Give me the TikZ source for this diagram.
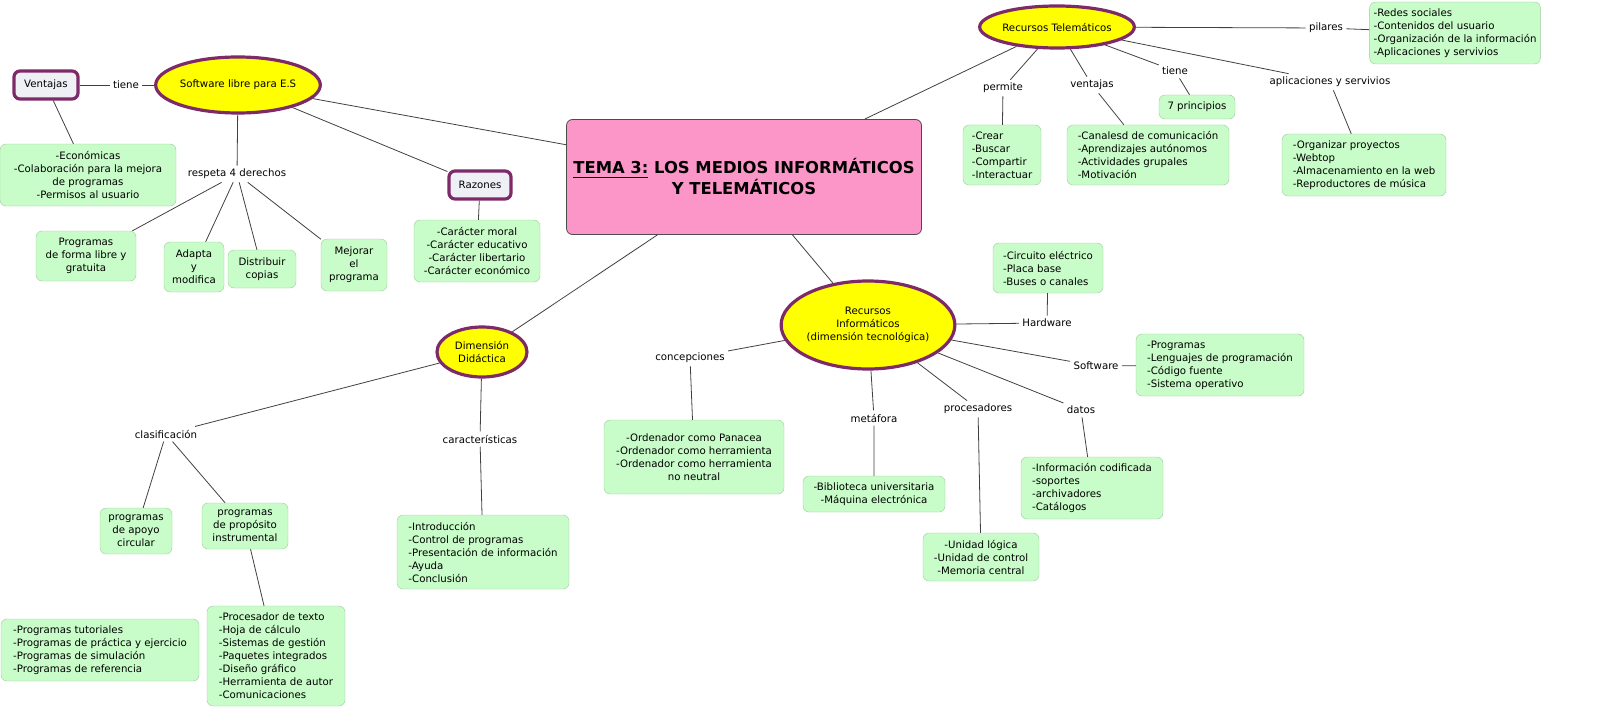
\documentclass[tikz,border=0pt]{standalone}
\usepackage{fontspec}
\setmainfont{DejaVu Sans}
\usetikzlibrary{shapes.geometric}
\definecolor{pk}{HTML}{FC96C8}
\definecolor{yl}{HTML}{FFFF00}
\definecolor{pu}{HTML}{7E2A68}
\definecolor{gr}{HTML}{C8FCC8}
\definecolor{gb}{HTML}{EEF0F6}
\begin{document}
\begin{tikzpicture}[x=0.5pt,y=-0.5pt,
  every node/.style={font=\fontsize{5.1}{6.5}\selectfont,align=center},
  ell/.style={ellipse,draw=pu,line width=1.6pt,fill=yl,minimum width=#1,inner sep=0pt},
  lst/.style={rounded corners=3pt,fill=gr,draw=gr!80!black,line width=0.2pt,minimum width=#1,inner sep=2pt},
  pb/.style={rounded corners=3pt,fill=gb,draw=pu,line width=1.6pt,minimum width=#1,minimum height=14pt},
  lb/.style={inner sep=1.5pt,fill=white},
  ln/.style={draw=black!75,line width=0.4pt}]
\useasboundingbox (0,0) rectangle (1600,722);
% central
\node[rounded corners=3pt,fill=pk,draw=black!70,line width=0.4pt,minimum width=177.5pt,minimum height=57.5pt,font=\fontsize{8.2}{10.5}\selectfont\bfseries] (c) at (744,177) {\underline{TEMA 3:} LOS MEDIOS INFORMÁTICOS\\Y TELEMÁTICOS};
% software libre
\node[ell=72pt,minimum height=28pt] (sl) at (238,85) {Software libre para E.S};
\node[pb=32pt] (ven) at (46,85) {Ventajas};
\node[lb] (tiene1) at (126,85) {tiene};
\node[lst=88pt,minimum height=31pt] (venl) at (88,175) {-Económicas\\-Colaboración para la mejora\\de programas\\-Permisos al usuario};
\node[lb] (resp) at (237,174) {respeta 4 derechos};
\node[lst=50pt,minimum height=25pt] (d1) at (86,256) {Programas\\de forma libre y\\gratuita};
\node[lst=30pt,minimum height=25pt] (d2) at (194,267) {Adapta\\y\\modifica};
\node[lst=34pt,minimum height=19pt] (d3) at (262,269) {Distribuir\\copias};
\node[lst=33pt,minimum height=26pt] (d4) at (354,265) {Mejorar\\el\\programa};
\node[pb=31pt] (raz) at (480,185) {Razones};
\node[lst=63pt,minimum height=31pt] (razl) at (477,251) {-Carácter moral\\-Carácter educativo\\-Carácter libertario\\-Carácter económico};
% telematicos
\node[ell=70pt,minimum height=21pt] (rt) at (1057,27) {Recursos Telemáticos};
\node[lb] (pil) at (1326,28) {pilares};
\node[lst=75pt,minimum height=31pt,align=left] (pill) at (1455,33) {-Redes sociales\\-Contenidos del usuario\\-Organización de la información\\-Aplicaciones y servivios};
\node[lb] (perm) at (1003,88) {permite};
\node[lst=39pt,minimum height=30pt,align=left] (perml) at (1002,155) {-Crear\\-Buscar\\-Compartir\\-Interactuar};
\node[lb] (vt) at (1092,85) {ventajas};
\node[lst=81pt,minimum height=30pt,align=left] (vtl) at (1148,155) {-Canalesd de comunicación\\-Aprendizajes autónomos\\-Actividades grupales\\-Motivación};
\node[lb] (tiene2) at (1175,71) {tiene};
\node[lst=38pt,minimum height=12pt] (siete) at (1197,107) {7 principios};
\node[lb] (apl) at (1330,82) {aplicaciones y servivios};
\node[lst=82pt,minimum height=31pt,align=left] (apll) at (1364,165) {-Organizar proyectos\\-Webtop\\-Almacenamiento en la web\\-Reproductores de música};
% informaticos
\node[ell=80pt,minimum height=44pt] (ri) at (868,325) {Recursos\\Informáticos\\(dimensión tecnológica)};
\node[lb] (hw) at (1047,323) {Hardware};
\node[lst=55pt,minimum height=25pt,align=left] (hwl) at (1048,268) {-Circuito eléctrico\\-Placa base\\-Buses o canales};
\node[lb] (sw) at (1096,366) {Software};
\node[lst=84pt,minimum height=31pt,align=left] (swl) at (1220,365) {-Programas\\-Lenguajes de programación\\-Código fuente\\-Sistema operativo};
\node[lb] (conc) at (690,358) {concepciones};
\node[lst=90pt,minimum height=37pt] (concl) at (694,457) {-Ordenador como Panacea\\-Ordenador como herramienta\\-Ordenador como herramienta\\no neutral};
\node[lb] (met) at (874,418) {metáfora};
\node[lst=71pt,minimum height=18pt] (metl) at (874,494) {-Biblioteca universitaria\\-Máquina electrónica};
\node[lb] (proc) at (978,409) {procesadores};
\node[lst=58pt,minimum height=24pt] (procl) at (981,557) {-Unidad lógica\\-Unidad de control\\-Memoria central};
\node[lb] (dat) at (1081,410) {datos};
\node[lst=71pt,minimum height=31pt,align=left] (datl) at (1092,488) {-Información codificada\\-soportes\\-archivadores\\-Catálogos};
% didactica
\node[ell=45pt,minimum height=25pt] (dd) at (482,352) {Dimensión\\Didáctica};
\node[lb] (clas) at (166,434) {clasificación};
\node[lb] (car) at (480,439) {características};
\node[lst=36pt,minimum height=23pt] (ap) at (136,531) {programas\\de apoyo\\circular};
\node[lst=43pt,minimum height=23pt] (ins) at (245,526) {programas\\de propósito\\instrumental};
\node[lst=99pt,minimum height=31pt,align=left] (tut) at (100,650) {-Programas tutoriales\\-Programas de práctica y ejercicio\\-Programas de simulación\\-Programas de referencia};
\node[lst=69pt,minimum height=50pt,align=left] (pt) at (276,656) {-Procesador de texto\\-Hoja de cálculo\\-Sistemas de gestión\\-Paquetes integrados\\-Diseño gráfico\\-Herramienta de autor\\-Comunicaciones};
\node[lst=86pt,minimum height=37pt,align=left] (carl) at (483,552) {-Introducción\\-Control de programas\\-Presentación de información\\-Ayuda\\-Conclusión};
% connectors
\begin{scope}[ln]
\draw (c) -- (sl); \draw (c) -- (rt); \draw (c) -- (ri); \draw (c) -- (dd);
\draw (sl) -- (tiene1) -- (ven); \draw (ven) -- (venl);
\draw (sl) -- (resp); \foreach \d in {d1,d2,d3,d4} \draw (resp) -- (\d);
\draw (sl) -- (raz) -- (razl);
\draw (rt) -- (pil) -- (pill);
\draw (rt) -- (perm) -- (perml);
\draw (rt) -- (vt) -- (vtl);
\draw (rt) -- (tiene2) -- (siete);
\draw (rt) -- (apl) -- (apll);
\draw (ri) -- (hw) -- (hwl);
\draw (ri) -- (sw) -- (swl);
\draw (ri) -- (conc) -- (concl);
\draw (ri) -- (met) -- (metl);
\draw (ri) -- (proc) -- (procl);
\draw (ri) -- (dat) -- (datl);
\draw (dd) -- (clas); \draw (clas) -- (ap); \draw (clas) -- (ins); \draw (ins) -- (pt);
\draw (dd) -- (car) -- (carl);
\end{scope}
\end{tikzpicture}
\end{document}
